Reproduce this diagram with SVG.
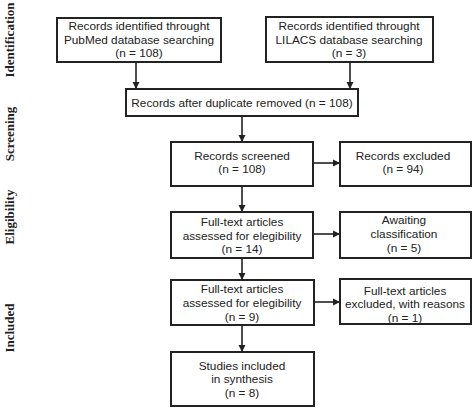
<svg xmlns="http://www.w3.org/2000/svg" width="474" height="409" viewBox="0 0 474 409">
<style>
.box{fill:#fff;stroke:#222;stroke-width:2}
.t{font-family:"Liberation Sans",Arial,sans-serif;font-size:11.8px;fill:#222;text-anchor:middle}
.side{font-family:"Liberation Serif","Times New Roman",serif;font-size:13px;font-weight:bold;fill:#222;text-anchor:middle}
.c{stroke:#222;stroke-width:1.6;fill:none;marker-end:url(#ah)}
</style>
<defs>
<marker id="ah" viewBox="0 0 10 10" refX="10" refY="5" markerWidth="4.5" markerHeight="4.5" orient="auto" markerUnits="strokeWidth">
<path d="M0,0 L10,5 L0,10 z" fill="#222"/>
</marker>
</defs>
<rect width="474" height="409" fill="#fff"/>
<g id="labels">
<text class="side" transform="translate(14,40) rotate(-90)">Identification</text>
<text class="side" transform="translate(14,134) rotate(-90)">Screening</text>
<text class="side" transform="translate(14,217) rotate(-90)">Eligibility</text>
<text class="side" transform="translate(14,328) rotate(-90)">Included</text>
</g>
<g id="connectors">
<line class="c" x1="136" y1="62" x2="136" y2="89"/>
<line class="c" x1="350" y1="62" x2="350" y2="89"/>
<line class="c" x1="242" y1="116" x2="242" y2="142"/>
<line class="c" x1="313" y1="163" x2="340" y2="163"/>
<line class="c" x1="242" y1="186" x2="242" y2="212"/>
<line class="c" x1="313" y1="234" x2="340" y2="234"/>
<line class="c" x1="242" y1="258" x2="242" y2="280"/>
<line class="c" x1="314" y1="302" x2="340" y2="302"/>
<line class="c" x1="242" y1="325" x2="242" y2="352"/>
</g>
<g id="pubmed">
<rect class="box" x="57" y="18" width="164" height="44"/>
<text class="t" x="139" y="30">Records identified throught</text>
<text class="t" x="139" y="44">PubMed database searching</text>
<text class="t" x="139" y="57">(n = 108)</text>
</g>
<g id="lilacs">
<rect class="box" x="266" y="17" width="167" height="45"/>
<text class="t" x="349" y="30">Records identified throught</text>
<text class="t" x="349" y="44">LILACS database searching</text>
<text class="t" x="349" y="57">(n = 3)</text>
</g>
<g id="dup">
<rect class="box" x="126" y="89" width="232" height="27"/>
<text class="t" x="242" y="107">Records after duplicate removed (n = 108)</text>
</g>
<g id="screened">
<rect class="box" x="171" y="142" width="142" height="44"/>
<text class="t" x="242" y="160">Records screened</text>
<text class="t" x="242" y="173">(n = 108)</text>
</g>
<g id="excluded">
<rect class="box" x="340" y="142" width="131" height="44"/>
<text class="t" x="403" y="160">Records excluded</text>
<text class="t" x="403" y="173">(n = 94)</text>
</g>
<g id="fulltext14">
<rect class="box" x="171" y="212" width="142" height="46"/>
<text class="t" x="242" y="226">Full-text articles</text>
<text class="t" x="242" y="240">assessed for elegibility</text>
<text class="t" x="242" y="253">(n = 14)</text>
</g>
<g id="awaiting">
<rect class="box" x="340" y="212" width="131" height="46"/>
<text class="t" x="404" y="224">Awaiting</text>
<text class="t" x="404" y="238">classification</text>
<text class="t" x="404" y="252">(n = 5)</text>
</g>
<g id="fulltext9">
<rect class="box" x="171" y="280" width="143" height="45"/>
<text class="t" x="242" y="293">Full-text articles</text>
<text class="t" x="242" y="307">assessed for elegibility</text>
<text class="t" x="242" y="321">(n = 9)</text>
</g>
<g id="reasons">
<rect class="box" x="340" y="279" width="131" height="45"/>
<text class="t" x="405" y="295">Full-text articles</text>
<text class="t" x="405" y="308">excluded, with reasons</text>
<text class="t" x="405" y="322">(n = 1)</text>
</g>
<g id="included">
<rect class="box" x="171" y="352" width="143" height="54"/>
<text class="t" x="242" y="370">Studies included</text>
<text class="t" x="242" y="383">in synthesis</text>
<text class="t" x="242" y="397">(n = 8)</text>
</g>
</svg>
